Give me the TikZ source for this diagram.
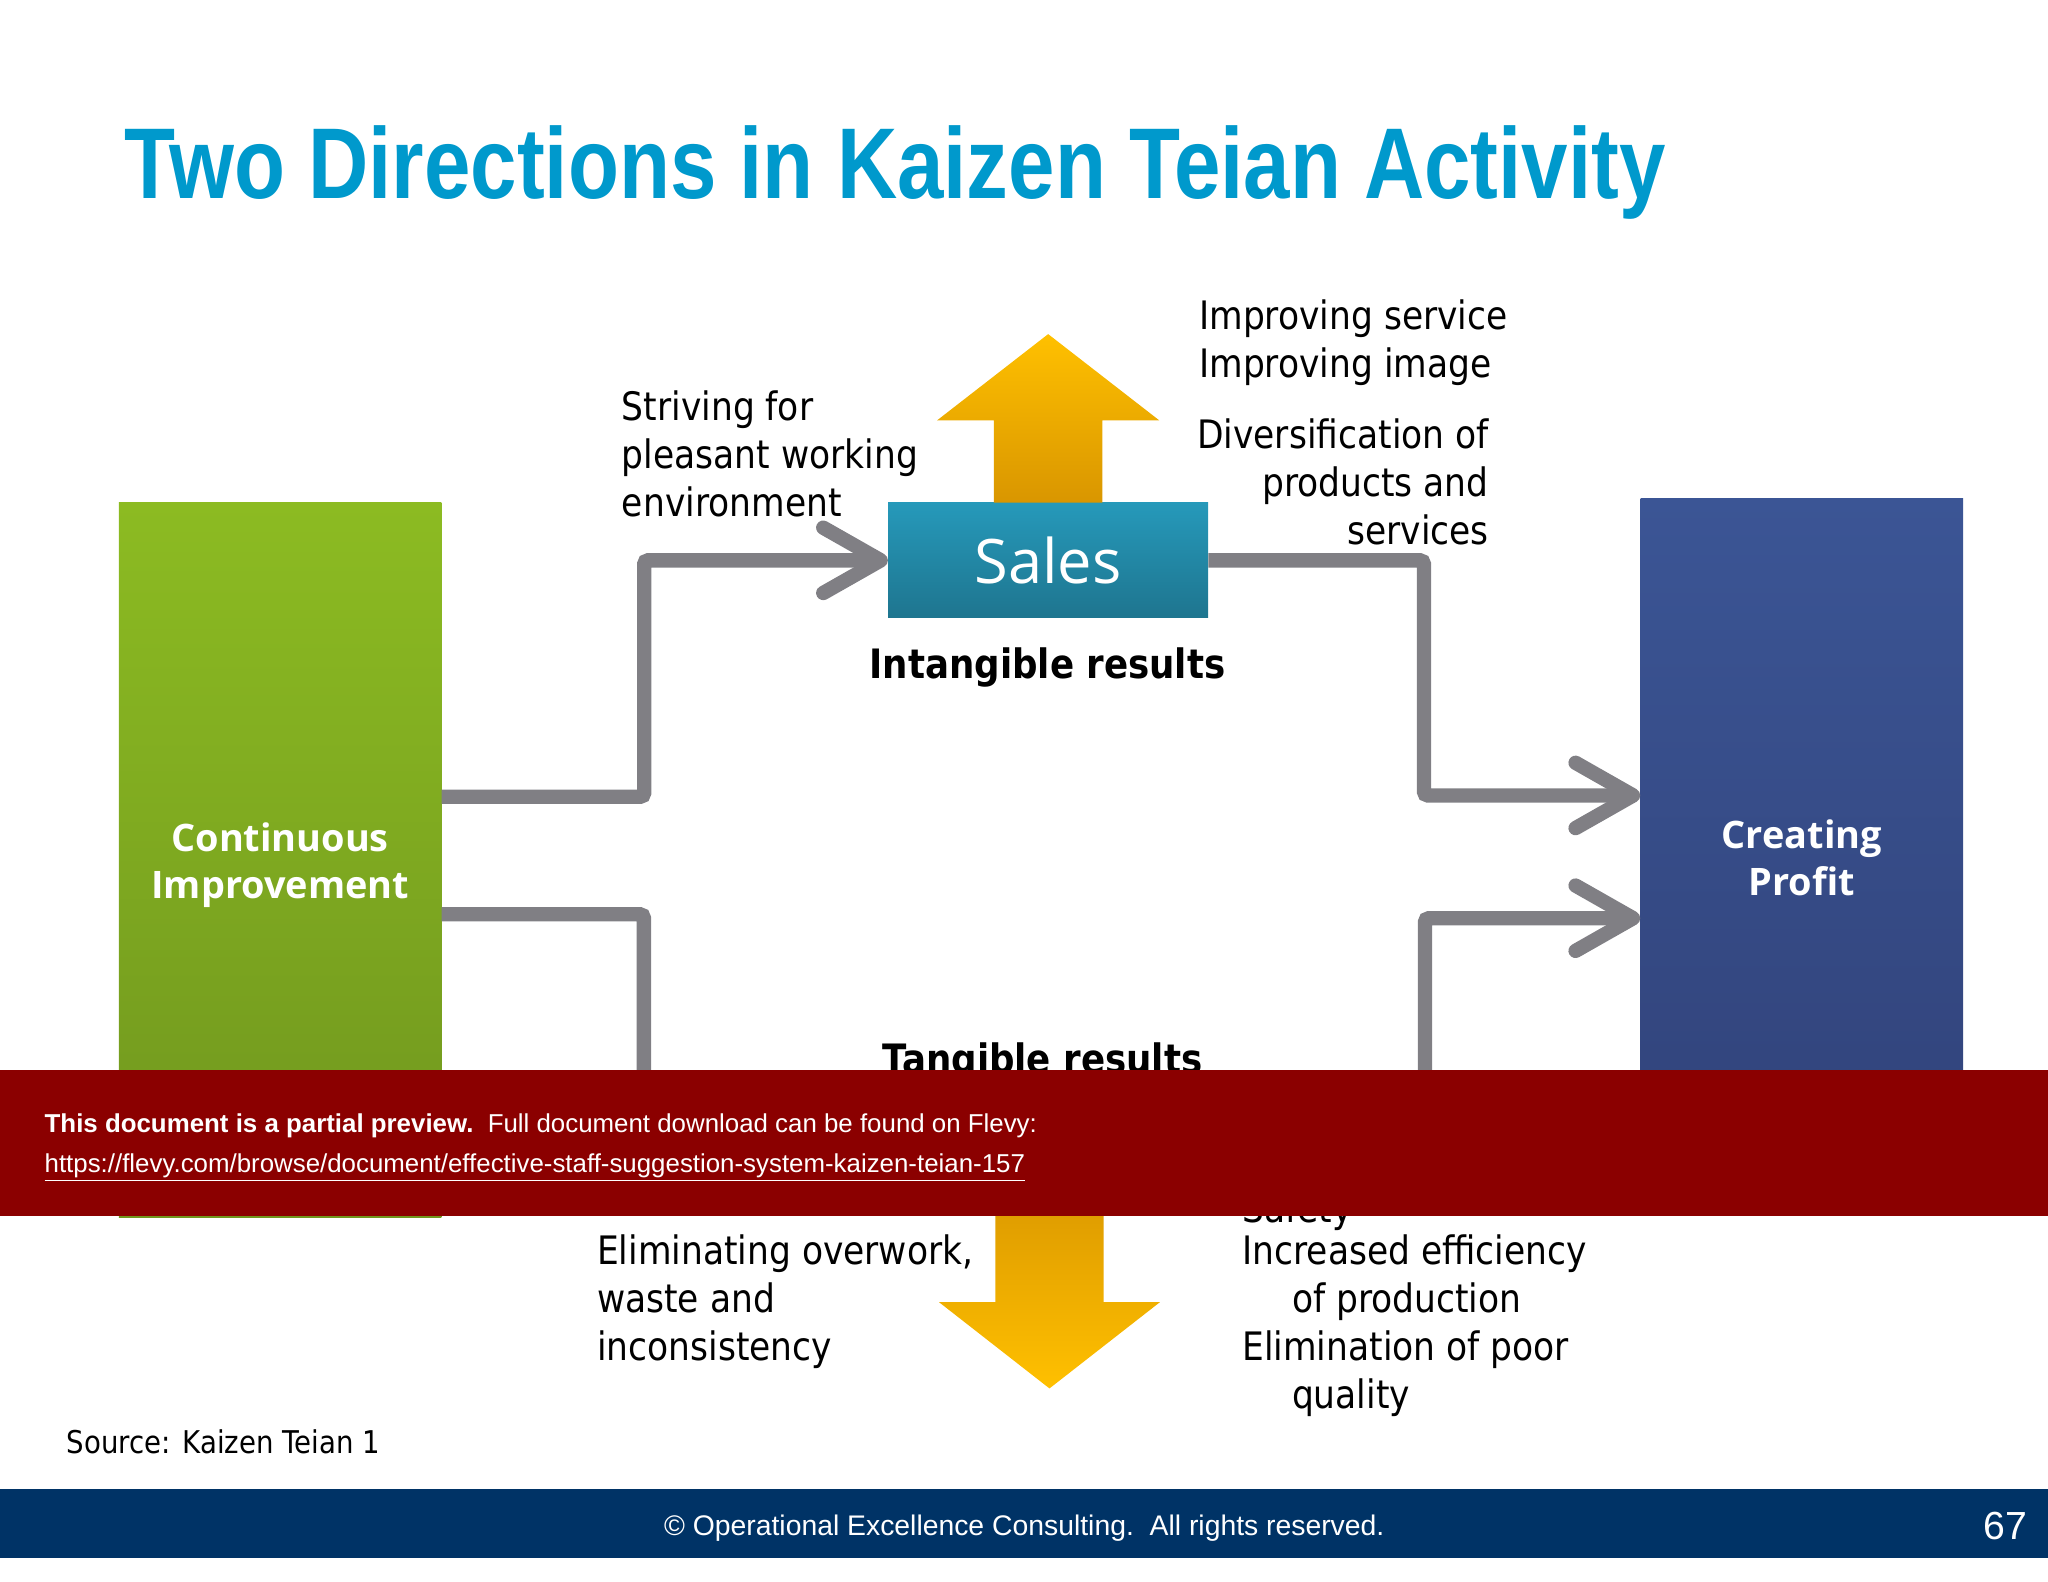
\documentclass[tikz,border=0pt]{standalone}
\usepackage{fontspec}
\usepackage{tikz}
\usetikzlibrary{positioning,arrows.meta,calc}
\setmainfont{DejaVu Sans}
\newfontfamily\labelfont[FakeStretch=0.88]{DejaVu Sans}
\newfontfamily\boxfont{Open Sans}
\newfontfamily\arialfont{Liberation Sans}
\newfontfamily\titlefont[FakeStretch=0.83]{Liberation Sans}
\definecolor{titleblue}{RGB}{0,153,204}
\definecolor{greentop}{RGB}{140,187,34}
\definecolor{greenbot}{RGB}{112,150,30}
\definecolor{bluetop}{RGB}{59,85,149}
\definecolor{bluebot}{RGB}{49,66,121}
\definecolor{tealtop}{RGB}{38,153,186}
\definecolor{tealbot}{RGB}{30,117,143}
\definecolor{arrowyellow}{RGB}{255,192,0}
\definecolor{arroworange}{RGB}{217,150,0}
\definecolor{linkgrey}{RGB}{128,127,132}
\definecolor{bannerred}{RGB}{139,0,0}
\definecolor{footerblue}{RGB}{0,51,102}

\begin{document}
\begin{tikzpicture}[x=1pt,y=-1pt,
  pillar/.style={inner sep=0pt,minimum width=247pt},
  pillartext/.style={inner sep=0pt,align=center,text=white,
    font=\boxfont\bfseries\fontsize{29}{36}\selectfont},
  lbl/.style={inner sep=0pt,font=\labelfont\fontsize{30}{36.8}\selectfont},
  link/.style={draw=linkgrey,line width=11pt,rounded corners=3pt},
  chevron/.style={link,-{Straight Barb[length=44pt,width=50pt,round]}},
  strip/.style={inner sep=0pt,anchor=north west,minimum width=1568pt}]
\useasboundingbox (0,0) rectangle (1568,1211);

% title
\node[inner sep=0pt,anchor=base west,text=titleblue,
  font=\titlefont\bfseries\fontsize{77}{80}\selectfont] (title) at (95,152)
  {Two Directions in Kaizen Teian Activity};

% the two pillars and the sales box
\node[pillar,minimum height=547pt,top color=greentop,bottom color=greenbot]
  (ci) at (214.5,658.5) {};
\node[pillartext] (citext) at ([yshift=-4pt]ci.center) {Continuous\\Improvement};
\node[pillar,minimum height=543pt,top color=bluetop,bottom color=bluebot]
  (cp) at (1379.5,653.5) {};
\node[pillartext] (cptext) at ([yshift=-3pt]cp.center) {Creating\\Profit};
\node[inner sep=0pt,minimum width=245pt,minimum height=88pt,text=white,
  top color=tealtop,bottom color=tealbot,
  font=\boxfont\fontsize{47}{50}\selectfont] (sales) at (802.5,429) {Sales};

% yellow arrows
\shade[top color=arrowyellow,bottom color=arroworange]
  ($(sales.north)+(-41.5,0)$) -- ++(0,-63) -- ++(-43.5,0)
  -- ($(sales.north)+(0,-129)$) -- ($(sales.north)+(85,-63)$)
  -- ++(-43.5,0) -- ($(sales.north)+(41.5,0)$) -- cycle;
\shade[top color=arroworange,bottom color=arrowyellow]
  (762,900) -- (762,997) -- (719,997) -- (803.5,1063)
  -- (888,997) -- (845,997) -- (845,900) -- cycle;

% connectors
\coordinate (lowleft) at (493,880);
\coordinate (lowright) at (1091,880);
\draw[chevron] ([yshift=48.5pt]ci.east) -- ++(155,0) |- (sales.west);
\draw[link] ([yshift=-41.5pt]ci.east) -| (lowleft);
\draw[chevron] (sales.east) -- ++(165,0) |- ([yshift=44.5pt]cp.west);
\draw[chevron] (lowright) |- ([yshift=-49.5pt]cp.west);

% labels
\node[lbl,anchor=north west,align=left] (striving) at (476,299)
  {Striving for\\pleasant working\\environment};
\node[lbl,anchor=north west,align=left] (service) at (918,229)
  {Improving service\\Improving image};
\node[lbl,anchor=north east,align=right] (diversify) at (1140,320)
  {Diversification of\\products and\\services};
\node[lbl,font=\labelfont\bfseries\fontsize{31}{36.8}\selectfont]
  (intangible) at (802,511) {Intangible results};
\node[lbl,anchor=base,font=\labelfont\bfseries\fontsize{31}{36.8}\selectfont]
  (tangible) at (798,822) {Tangible results};
\node[lbl,anchor=north west,align=left] (eliminate) at (457,945)
  {Eliminating overwork,\\waste and\\inconsistency};
\node[lbl,anchor=base west] (safety) at (951,936) {Safety};
\node[lbl,anchor=north west,align=left] (efficiency) at (951,945)
  {Increased efficiency\\\hspace*{38pt}of production\\
   Elimination of poor\\\hspace*{38pt}quality};
\node[lbl,anchor=base west,font=\labelfont\fontsize{24}{28}\selectfont]
  (source) at (51,1113) {Source: Kaizen Teian 1};

% preview banner
\node[strip,fill=bannerred,minimum height=112pt] (banner) at (0,819) {};
\node[inner sep=0pt,anchor=base west,text=white,
  font=\arialfont\fontsize{19.8}{22}\selectfont] (preview) at (34,867)
  {\textbf{This document is a partial preview.}\ \ Full document download can be found on Flevy:};
\node[inner sep=0pt,anchor=base west,text=white,
  font=\arialfont\fontsize{19.8}{22}\selectfont] (url) at (34,898)
  {\underline{https://flevy.com/browse/document/effective-staff-suggestion-system-kaizen-teian-157}};

% footer
\node[strip,fill=footerblue,minimum height=53pt] (footer) at (0,1140) {};
\node[inner sep=0pt,text=white,font=\arialfont\fontsize{21.7}{25}\selectfont]
  (copyright) at ([yshift=-3pt]footer.center) {© Operational Excellence Consulting.\ \ All rights reserved.};
\node[inner sep=0pt,anchor=east,text=white,font=\arialfont\fontsize{30}{34}\selectfont]
  (pagenum) at ([xshift=-16pt,yshift=-2pt]footer.east) {67};
\end{tikzpicture}
\end{document}
